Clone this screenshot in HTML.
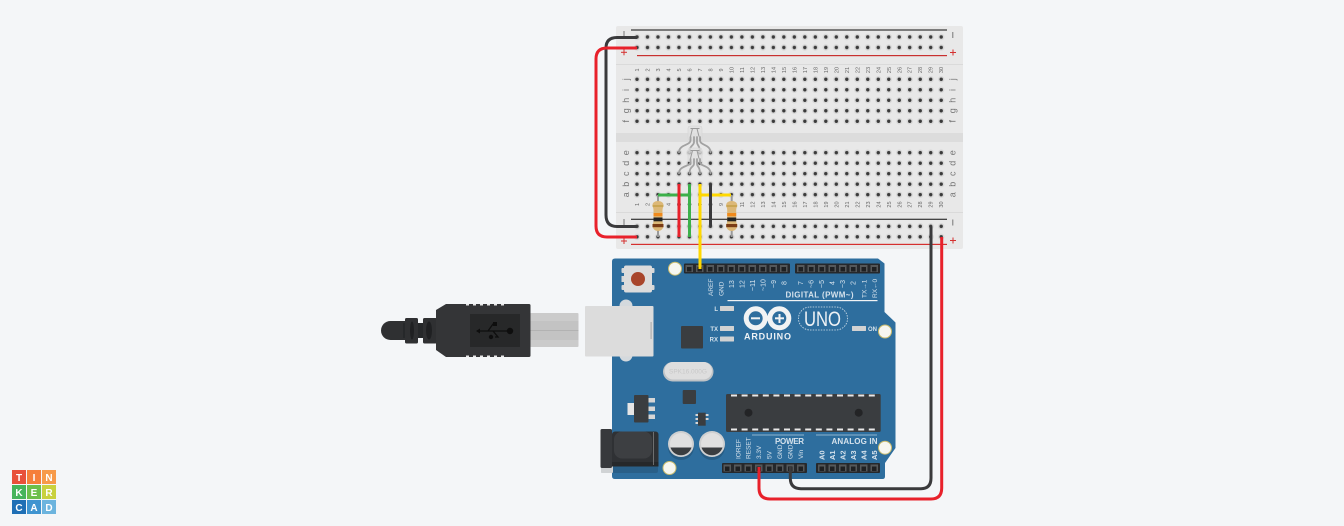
<!DOCTYPE html>
<html><head><meta charset="utf-8"><style>
html,body{margin:0;padding:0;background:#f4f6f8;width:1344px;height:526px;overflow:hidden}
svg{display:block;font-family:"Liberation Sans",sans-serif}
.n{font-size:5.5px;fill:#666;text-anchor:middle}
.l{font-size:9px;fill:#777;text-anchor:middle}
.p{font-size:7px;fill:#d5e2ec;text-anchor:start}
.b{font-size:6.5px;fill:#d5e2ec;text-anchor:start}
.w{fill:none;stroke-linecap:butt;stroke-linejoin:round;stroke-width:3}
.lg{fill:none;stroke:#a2a2a2;stroke-width:1.8;stroke-linecap:round}
.tk{font-size:10px;font-weight:bold;fill:#fff;text-anchor:middle}
</style></head><body>
<svg width="1344" height="526" viewBox="0 0 1344 526" xmlns="http://www.w3.org/2000/svg">
<defs>
<pattern id="h1" patternUnits="userSpaceOnUse" width="10.49" height="10.49" x="631.755" y="31.75"><circle cx="5.245" cy="5.245" r="3.2" fill="#d8d8d8"/><circle cx="5.245" cy="5.245" r="1.7" fill="#3a3a3a"/></pattern>
<pattern id="h2" patternUnits="userSpaceOnUse" width="10.49" height="10.49" x="631.755" y="74.05"><circle cx="5.245" cy="5.245" r="3.2" fill="#d8d8d8"/><circle cx="5.245" cy="5.245" r="1.7" fill="#3a3a3a"/></pattern>
<pattern id="h3" patternUnits="userSpaceOnUse" width="10.49" height="10.49" x="631.755" y="147.45"><circle cx="5.245" cy="5.245" r="3.2" fill="#d8d8d8"/><circle cx="5.245" cy="5.245" r="1.7" fill="#3a3a3a"/></pattern>
<pattern id="h4" patternUnits="userSpaceOnUse" width="10.49" height="10.49" x="631.755" y="221.1"><circle cx="5.245" cy="5.245" r="3.2" fill="#d8d8d8"/><circle cx="5.245" cy="5.245" r="1.7" fill="#3a3a3a"/></pattern>
<pattern id="pt" patternUnits="userSpaceOnUse" width="10.5" height="10" x="684" y="263.5"><rect x="1.5" y="1.5" width="7.5" height="7" fill="#55585a"/><rect x="3" y="3.5" width="4.5" height="4.5" fill="#1f2022"/></pattern>
<pattern id="pt2" patternUnits="userSpaceOnUse" width="10.5" height="10" x="795.5" y="263.5"><rect x="1.5" y="1.5" width="7.5" height="7" fill="#55585a"/><rect x="3" y="3.5" width="4.5" height="4.5" fill="#1f2022"/></pattern>
<pattern id="pb" patternUnits="userSpaceOnUse" width="10.5" height="10" x="722" y="463"><rect x="1.5" y="1.5" width="7.5" height="7" fill="#55585a"/><rect x="3" y="3.5" width="4.5" height="4.5" fill="#1f2022"/></pattern>
<pattern id="pb2" patternUnits="userSpaceOnUse" width="10.5" height="10" x="816.5" y="463"><rect x="1.5" y="1.5" width="7.5" height="7" fill="#55585a"/><rect x="3" y="3.5" width="4.5" height="4.5" fill="#1f2022"/></pattern>
</defs>
<rect width="1344" height="526" fill="#f4f6f8"/>

<!-- Breadboard -->
<rect x="616" y="26" width="347" height="223" rx="2" fill="#e8e8e8"/>
<rect x="616" y="64" width="347" height="1" fill="#dadada"/>
<rect x="616" y="133" width="347" height="9" fill="#dcdcdc"/>
<rect x="616" y="212" width="347" height="1" fill="#dadada"/>
<rect x="631.7" y="31.7" width="315" height="21" fill="url(#h1)"/>
<rect x="631.7" y="74" width="315" height="52.5" fill="url(#h2)"/>
<rect x="631.7" y="147.4" width="315" height="52.5" fill="url(#h3)"/>
<rect x="631.7" y="221" width="315" height="21" fill="url(#h4)"/>
<rect x="631" y="29.4" width="316" height="1.2" fill="#333"/>
<rect x="637" y="55" width="310" height="1.2" fill="#c8302f"/>
<rect x="631" y="218.7" width="316" height="1.2" fill="#333"/>
<rect x="631" y="243.8" width="316" height="1.2" fill="#d5302f"/>
<g fill="#777"><rect x="623.5" y="31" width="1" height="6"/><rect x="623.5" y="219" width="1" height="6"/><rect x="952.3" y="32" width="1" height="6"/><rect x="952.3" y="219.5" width="1" height="6"/></g>
<g fill="#d5302f"><rect x="621" y="51.8" width="6" height="1"/><rect x="623.5" y="49.3" width="1" height="6"/><rect x="621" y="240.5" width="6" height="1"/><rect x="623.5" y="238" width="1" height="6"/><rect x="950" y="52" width="6" height="1"/><rect x="952.5" y="49.5" width="1" height="6"/><rect x="950" y="240" width="6" height="1"/><rect x="952.5" y="237.5" width="1" height="6"/></g>
<g>
<text class="l" transform="translate(629,79.3)rotate(-90)">j</text><text class="l" transform="translate(629,90)rotate(-90)">i</text><text class="l" transform="translate(629,100.3)rotate(-90)">h</text><text class="l" transform="translate(629,110.8)rotate(-90)">g</text><text class="l" transform="translate(629,121.3)rotate(-90)">f</text>
<text class="l" transform="translate(629,152.7)rotate(-90)">e</text><text class="l" transform="translate(629,163.2)rotate(-90)">d</text><text class="l" transform="translate(629,173.7)rotate(-90)">c</text><text class="l" transform="translate(629,184.2)rotate(-90)">b</text><text class="l" transform="translate(629,194.7)rotate(-90)">a</text>
<text class="l" transform="translate(955.5,79.3)rotate(-90)">j</text><text class="l" transform="translate(955.5,90)rotate(-90)">i</text><text class="l" transform="translate(955.5,100.3)rotate(-90)">h</text><text class="l" transform="translate(955.5,110.8)rotate(-90)">g</text><text class="l" transform="translate(955.5,121.3)rotate(-90)">f</text>
<text class="l" transform="translate(955.5,152.7)rotate(-90)">e</text><text class="l" transform="translate(955.5,163.2)rotate(-90)">d</text><text class="l" transform="translate(955.5,173.7)rotate(-90)">c</text><text class="l" transform="translate(955.5,184.2)rotate(-90)">b</text><text class="l" transform="translate(955.5,194.7)rotate(-90)">a</text>
</g>
<g>
<text class="n" transform="translate(639,70)rotate(-90)">1</text><text class="n" transform="translate(649.5,70)rotate(-90)">2</text><text class="n" transform="translate(660,70)rotate(-90)">3</text><text class="n" transform="translate(670.5,70)rotate(-90)">4</text><text class="n" transform="translate(681,70)rotate(-90)">5</text><text class="n" transform="translate(691.5,70)rotate(-90)">6</text><text class="n" transform="translate(702,70)rotate(-90)">7</text><text class="n" transform="translate(712.4,70)rotate(-90)">8</text><text class="n" transform="translate(722.9,70)rotate(-90)">9</text><text class="n" transform="translate(733.4,70)rotate(-90)">10</text><text class="n" transform="translate(743.9,70)rotate(-90)">11</text><text class="n" transform="translate(754.4,70)rotate(-90)">12</text><text class="n" transform="translate(764.9,70)rotate(-90)">13</text><text class="n" transform="translate(775.4,70)rotate(-90)">14</text><text class="n" transform="translate(785.9,70)rotate(-90)">15</text><text class="n" transform="translate(796.4,70)rotate(-90)">16</text><text class="n" transform="translate(806.8,70)rotate(-90)">17</text><text class="n" transform="translate(817.3,70)rotate(-90)">18</text><text class="n" transform="translate(827.8,70)rotate(-90)">19</text><text class="n" transform="translate(838.3,70)rotate(-90)">20</text><text class="n" transform="translate(848.8,70)rotate(-90)">21</text><text class="n" transform="translate(859.3,70)rotate(-90)">22</text><text class="n" transform="translate(869.8,70)rotate(-90)">23</text><text class="n" transform="translate(880.3,70)rotate(-90)">24</text><text class="n" transform="translate(890.8,70)rotate(-90)">25</text><text class="n" transform="translate(901.3,70)rotate(-90)">26</text><text class="n" transform="translate(911.7,70)rotate(-90)">27</text><text class="n" transform="translate(922.2,70)rotate(-90)">28</text><text class="n" transform="translate(932.7,70)rotate(-90)">29</text><text class="n" transform="translate(943.2,70)rotate(-90)">30</text>
<text class="n" transform="translate(639,204.5)rotate(-90)">1</text><text class="n" transform="translate(649.5,204.5)rotate(-90)">2</text><text class="n" transform="translate(660,204.5)rotate(-90)">3</text><text class="n" transform="translate(670.5,204.5)rotate(-90)">4</text><text class="n" transform="translate(681,204.5)rotate(-90)">5</text><text class="n" transform="translate(691.5,204.5)rotate(-90)">6</text><text class="n" transform="translate(702,204.5)rotate(-90)">7</text><text class="n" transform="translate(712.4,204.5)rotate(-90)">8</text><text class="n" transform="translate(722.9,204.5)rotate(-90)">9</text><text class="n" transform="translate(733.4,204.5)rotate(-90)">10</text><text class="n" transform="translate(743.9,204.5)rotate(-90)">11</text><text class="n" transform="translate(754.4,204.5)rotate(-90)">12</text><text class="n" transform="translate(764.9,204.5)rotate(-90)">13</text><text class="n" transform="translate(775.4,204.5)rotate(-90)">14</text><text class="n" transform="translate(785.9,204.5)rotate(-90)">15</text><text class="n" transform="translate(796.4,204.5)rotate(-90)">16</text><text class="n" transform="translate(806.8,204.5)rotate(-90)">17</text><text class="n" transform="translate(817.3,204.5)rotate(-90)">18</text><text class="n" transform="translate(827.8,204.5)rotate(-90)">19</text><text class="n" transform="translate(838.3,204.5)rotate(-90)">20</text><text class="n" transform="translate(848.8,204.5)rotate(-90)">21</text><text class="n" transform="translate(859.3,204.5)rotate(-90)">22</text><text class="n" transform="translate(869.8,204.5)rotate(-90)">23</text><text class="n" transform="translate(880.3,204.5)rotate(-90)">24</text><text class="n" transform="translate(890.8,204.5)rotate(-90)">25</text><text class="n" transform="translate(901.3,204.5)rotate(-90)">26</text><text class="n" transform="translate(911.7,204.5)rotate(-90)">27</text><text class="n" transform="translate(922.2,204.5)rotate(-90)">28</text><text class="n" transform="translate(932.7,204.5)rotate(-90)">29</text><text class="n" transform="translate(943.2,204.5)rotate(-90)">30</text>
</g>

<!-- LEDs -->
<rect x="688" y="126" width="14" height="14" rx="2" fill="#e0e0e0" fill-opacity=".7" stroke="#d2d2d2" stroke-width=".5"/>
<path d="M690.500 128.500h9M692.500 128.500l-2 8M697 128.500l2 8" fill="none" stroke="#9a9a9a" stroke-width="1"/>
<path class="lg" d="M690.500 137v3c0 6-11.500 4-11.500 12.500M694 137v5c0 4-4.500 3-4.500 10.500M697 137v5c0 4 3 3 3 10.500M700 137v3c0 6 10.500 4 10.500 12.500"/>
<rect x="688" y="148" width="14" height="14" rx="2" fill="#e0e0e0" fill-opacity=".7" stroke="#d2d2d2" stroke-width=".5"/>
<path d="M690.500 150.500h9M692.500 150.500l-2 8M697 150.500l2 8" fill="none" stroke="#9a9a9a" stroke-width="1"/>
<path class="lg" d="M690.500 159v3c0 5-11.500 3-11.500 11.500M694 159v5c0 3-4.500 2-4.500 9.500M697 159v5c0 3 3 2 3 9.500M700 159v3c0 5 10.500 3 10.500 11.500"/>

<!-- USB plug -->
<rect x="530" y="313" width="48.500" height="34" rx="1" fill="#cbcbcb"/>
<rect x="530" y="321" width="48.500" height="19" fill="#c3c3c3"/>
<rect x="530" y="330" width="48.500" height=".7" fill="#aaa"/>
<path d="M381 330.500a9.500 9.500 0 0 1 9.500-9.500H405V340H390.500a9.500 9.500 0 0 1-9.500-9.500z" fill="#2f3032"/>
<rect x="403" y="323" width="34" height="15" fill="#26282a"/>
<rect x="405" y="318" width="13" height="25.500" rx="1.500" fill="#2f3032"/>
<rect x="423" y="318" width="14" height="25.500" rx="1.500" fill="#2f3032"/>
<ellipse cx="412" cy="330.500" rx="2" ry="9" fill="#1f2022"/><ellipse cx="429" cy="330.500" rx="3" ry="9" fill="#1f2022"/>
<path d="M436 310l10-6h83a1.500 1.500 0 0 1 1.500 1.500v50a1.500 1.500 0 0 1-1.500 1.500h-83l-10-7z" fill="#343537"/>
<g fill="#e8e8e8"><rect x="466" y="304" width="3" height="1.500"/><rect x="473" y="304" width="3" height="1.500"/><rect x="480" y="304" width="3" height="1.500"/><rect x="487" y="304" width="3" height="1.500"/><rect x="494" y="304" width="3" height="1.500"/><rect x="501" y="304" width="3" height="1.500"/><rect x="466" y="355.500" width="3" height="1.500"/><rect x="473" y="355.500" width="3" height="1.500"/><rect x="480" y="355.500" width="3" height="1.500"/><rect x="487" y="355.500" width="3" height="1.500"/><rect x="494" y="355.500" width="3" height="1.500"/><rect x="501" y="355.500" width="3" height="1.500"/></g>
<rect x="470" y="314" width="50" height="33" fill="#272829"/>
<g stroke="#0e0e0e" stroke-width="1.300" fill="none"><path d="M478 331h34M488 331l5-7h4M493 331l5 6h-3"/></g>
<circle cx="510" cy="331" r="3.200" fill="#0e0e0e"/><rect x="483" y="322" width="4" height="4" fill="#0e0e0e" transform="translate(10,0)"/><circle cx="491" cy="337" r="2.200" fill="#0e0e0e"/><path d="M476 331l4-2.500v5z" fill="#0e0e0e"/>

<!-- Arduino -->
<path d="M615 258.500H878l6.500 5V312l11 10.500V448l-10.500 15v13.500q0 2.500-2.500 2.500H615q-3 0-3-3V261.500q0-3 3-3z" fill="#2e6e9e"/>
<rect x="684" y="263.500" width="106" height="10" rx="1" fill="#26282b"/>
<rect x="684" y="263.500" width="106" height="10" fill="url(#pt)"/>
<rect x="795" y="263.500" width="85" height="10" rx="1" fill="#26282b"/>
<rect x="795.500" y="263.500" width="84" height="10" fill="url(#pt2)"/>
<rect x="722" y="463" width="85" height="10" rx="1" fill="#26282b"/>
<rect x="722" y="463" width="84" height="10" fill="url(#pb)"/>
<rect x="816" y="463" width="64" height="10" rx="1" fill="#26282b"/>
<rect x="816.500" y="463" width="63" height="10" fill="url(#pb2)"/>
<g fill="#f6f6f0" stroke="#c9bb6c" stroke-width="1"><circle cx="675" cy="268.700" r="6.500"/><circle cx="885" cy="331.500" r="6.500"/><circle cx="885" cy="447.700" r="6.500"/><circle cx="669.500" cy="468" r="6.500"/></g>
<!-- reset -->
<rect x="621.500" y="268" width="33" height="5" rx="1" fill="#d8d8d8"/>
<rect x="621.500" y="276" width="3" height="6" fill="#d8d8d8"/><rect x="621.500" y="285" width="33" height="5" rx="1" fill="#d8d8d8"/>
<rect x="624" y="265.500" width="28" height="27" rx="2" fill="#dcdcdc"/>
<circle cx="638" cy="279" r="7" fill="#a8452b"/>
<!-- USB port -->
<circle cx="626" cy="306" r="6.500" fill="#d4d9dd"/><circle cx="626" cy="355" r="6.500" fill="#d4d9dd"/>
<rect x="585" y="306" width="68.500" height="50.500" rx="1" fill="#dcdcdc"/>
<rect x="650.500" y="322" width="1.200" height="17" fill="#b0b0b0"/>
<!-- chips -->
<rect x="681" y="326" width="22" height="22.500" rx="1" fill="#3a3d40"/>
<rect x="682.700" y="390" width="13.300" height="14" rx="1" fill="#3a3d40"/>
<g fill="#d2d2d2"><rect x="720" y="306" width="14" height="5" rx=".5"/><rect x="720" y="326" width="14" height="5" rx=".5"/><rect x="720" y="336.500" width="14" height="5" rx=".5"/><rect x="852" y="326" width="14" height="5" rx=".5"/></g>
<g font-size="6" font-weight="bold" fill="#d5e2ec" text-anchor="end"><text x="718" y="311">L</text><text x="718" y="331">TX</text><text x="718" y="341.500">RX</text><text x="877" y="331">ON</text></g>
<!-- logo -->
<g fill="none" stroke="#f1f3f4" stroke-width="5"><circle cx="755.700" cy="318.300" r="9.500"/><circle cx="779.300" cy="318.300" r="9.500"/></g>
<g fill="#f1f3f4"><rect x="751" y="317.300" width="9" height="2"/><rect x="775" y="317.300" width="9" height="2"/><rect x="778.500" y="314" width="2" height="9"/></g>
<text x="744" y="339.500" font-size="9" font-weight="bold" fill="#eef2f5" textLength="47">ARDUINO</text>
<rect x="798.500" y="307" width="49" height="23" rx="11.500" fill="none" stroke="#d5e2ec" stroke-width=".8" stroke-dasharray="1.500 1.200"/>
<text x="804" y="326" font-size="21" fill="#eef2f5" textLength="37" lengthAdjust="spacingAndGlyphs">UNO</text>
<text x="785.500" y="297.500" font-size="8" font-weight="bold" fill="#d5e2ec" textLength="68">DIGITAL (PWM~)</text>
<rect x="727.500" y="300" width="150" height="1.200" fill="#f1f3f4"/>
<g>
<text class="p" style="font-size:6.500px" transform="translate(713,296)rotate(-90)">AREF</text>
<text class="p" style="font-size:6.500px" transform="translate(723.500,296)rotate(-90)">GND</text>
<text class="p" transform="translate(734,288)rotate(-90)">13</text>
<text class="p" transform="translate(744.500,288)rotate(-90)">12</text>
<text class="p" transform="translate(755,291)rotate(-90)">~11</text>
<text class="p" transform="translate(765.500,291)rotate(-90)">~10</text>
<text class="p" transform="translate(776,288)rotate(-90)">~9</text>
<text class="p" transform="translate(786.500,285)rotate(-90)">8</text>
<text class="p" transform="translate(803,285)rotate(-90)">7</text>
<text class="p" transform="translate(813.500,288)rotate(-90)">~6</text>
<text class="p" transform="translate(824,288)rotate(-90)">~5</text>
<text class="p" transform="translate(834.500,285)rotate(-90)">4</text>
<text class="p" transform="translate(845,288)rotate(-90)">~3</text>
<text class="p" transform="translate(855.500,285)rotate(-90)">2</text>
<text class="p" style="font-size:6.500px" transform="translate(866.500,298)rotate(-90)">TX→1</text>
<text class="p" style="font-size:6.500px" transform="translate(877,298)rotate(-90)">RX←0</text>
</g>
<text x="775" y="444" font-size="8" font-weight="bold" fill="#d5e2ec" textLength="29">POWER</text>
<text x="831.500" y="444" font-size="8" font-weight="bold" fill="#d5e2ec" textLength="46">ANALOG IN</text>
<rect x="752" y="434.500" width="52" height="1" fill="#8fb4cf"/><rect x="816" y="434.500" width="61" height="1" fill="#8fb4cf"/>
<g>
<text class="b" transform="translate(740.300,459)rotate(-90)">IOREF</text>
<text class="b" transform="translate(750.500,459)rotate(-90)">RESET</text>
<text class="b" transform="translate(761,459)rotate(-90)">3.3V</text>
<text class="b" transform="translate(771.500,459)rotate(-90)">5V</text>
<text class="b" transform="translate(782,459)rotate(-90)">GND</text>
<text class="b" transform="translate(792.500,459)rotate(-90)">GND</text>
<text class="b" transform="translate(803,459)rotate(-90)">Vin</text>
<text class="b" style="font-size:7.500px;font-weight:bold" transform="translate(824.500,460)rotate(-90)">A0</text>
<text class="b" style="font-size:7.500px;font-weight:bold" transform="translate(835,460)rotate(-90)">A1</text>
<text class="b" style="font-size:7.500px;font-weight:bold" transform="translate(845.500,460)rotate(-90)">A2</text>
<text class="b" style="font-size:7.500px;font-weight:bold" transform="translate(856,460)rotate(-90)">A3</text>
<text class="b" style="font-size:7.500px;font-weight:bold" transform="translate(866.500,460)rotate(-90)">A4</text>
<text class="b" style="font-size:7.500px;font-weight:bold" transform="translate(877,460)rotate(-90)">A5</text>
</g>
<!-- crystal -->
<rect x="663" y="362" width="50.500" height="19.500" rx="9.700" fill="#bfc3c6"/>
<rect x="664.500" y="362" width="47.500" height="17.500" rx="8.700" fill="#dedede"/>
<text x="688" y="373.500" font-size="6.500" fill="#c8c8c8" text-anchor="middle">SPK16.000G</text>
<!-- regulator -->
<rect x="627.500" y="403" width="8" height="12" fill="#e6e6e6"/>
<g fill="#d6d6d6"><rect x="647" y="398" width="8" height="4.500"/><rect x="647" y="406.500" width="8" height="4.500"/><rect x="647" y="414.500" width="8" height="4.500"/></g>
<rect x="634" y="395" width="14.500" height="27.500" rx="1" fill="#3a3d40"/>
<!-- small IC -->
<g fill="#d6d6d6"><rect x="695.500" y="414" width="13" height="2"/><rect x="695.500" y="418" width="13" height="2"/><rect x="695.500" y="422" width="3" height="2"/></g>
<rect x="698" y="412.700" width="7.700" height="13" fill="#3a3d40"/>
<!-- jack -->
<rect x="601" y="445" width="57" height="28" rx="2" fill="#295f88"/>
<rect x="601" y="436" width="12" height="37" rx="1" fill="#d0d3d5"/>
<rect x="612" y="431.500" width="46.500" height="34.500" rx="3" fill="#2f3134"/>
<rect x="614" y="431.500" width="38" height="27" rx="8" fill="#3d3f42"/>
<rect x="612" y="462" width="46.500" height="4.500" fill="#26282a"/>
<rect x="600.500" y="429" width="11.500" height="39" rx="1.500" fill="#37393c"/>
<rect x="653" y="432" width=".7" height="33" fill="#8a8a8a"/>
<!-- caps -->
<circle cx="681" cy="447" r="13" fill="#275c84"/><circle cx="712" cy="447" r="13" fill="#275c84"/>
<circle cx="681" cy="444" r="13" fill="#cfd0d1"/><circle cx="712" cy="444" r="13" fill="#cfd0d1"/>
<circle cx="681" cy="444" r="11" fill="#e0e0e0"/><circle cx="712" cy="444" r="11" fill="#e0e0e0"/>
<path d="M670.500 447.500h21a11 11 0 0 1-21 0zM701.500 447.500h21a11 11 0 0 1-21 0z" fill="#3a3d40"/>
<!-- MCU -->
<rect x="726" y="394" width="154.700" height="38" rx="1.500" fill="#3a3d40"/>
<g fill="#e8e8e8"><rect x="731" y="394.500" width="6" height="2"/><rect x="741.600" y="394.500" width="6" height="2"/><rect x="752.200" y="394.500" width="6" height="2"/><rect x="762.800" y="394.500" width="6" height="2"/><rect x="773.400" y="394.500" width="6" height="2"/><rect x="784" y="394.500" width="6" height="2"/><rect x="794.600" y="394.500" width="6" height="2"/><rect x="805.200" y="394.500" width="6" height="2"/><rect x="815.800" y="394.500" width="6" height="2"/><rect x="826.400" y="394.500" width="6" height="2"/><rect x="837" y="394.500" width="6" height="2"/><rect x="847.600" y="394.500" width="6" height="2"/><rect x="858.200" y="394.500" width="6" height="2"/><rect x="868.800" y="394.500" width="6" height="2"/>
<rect x="731" y="428.500" width="6" height="2"/><rect x="741.600" y="428.500" width="6" height="2"/><rect x="752.200" y="428.500" width="6" height="2"/><rect x="762.800" y="428.500" width="6" height="2"/><rect x="773.400" y="428.500" width="6" height="2"/><rect x="784" y="428.500" width="6" height="2"/><rect x="794.600" y="428.500" width="6" height="2"/><rect x="805.200" y="428.500" width="6" height="2"/><rect x="815.800" y="428.500" width="6" height="2"/><rect x="826.400" y="428.500" width="6" height="2"/><rect x="837" y="428.500" width="6" height="2"/><rect x="847.600" y="428.500" width="6" height="2"/><rect x="858.200" y="428.500" width="6" height="2"/><rect x="868.800" y="428.500" width="6" height="2"/></g>
<circle cx="748.500" cy="412.700" r="4" fill="#232426"/><circle cx="858.700" cy="412.700" r="4" fill="#232426"/>

<!-- Resistors -->
<g>
<path d="M658 195v42" stroke="#9a9a9a" stroke-width="2" fill="none"/>
<path d="M652.500 205c0-2.500 2.500-4 5.500-4s5.500 1.500 5.500 4c0 2-1 3-1 5v11c0 2 1 3 1 5 0 2.500-2.500 5-5.500 5s-5.500-2.500-5.500-5c0-2 1-3 1-5v-11c0-2-1-3-1-5z" fill="#dcb878"/>
<rect x="652.500" y="205.500" width="11" height="1" fill="#b8932f"/><rect x="653.500" y="213" width="9" height="3.200" fill="#f08a1c"/><rect x="653.500" y="217.500" width="9" height="3.800" fill="#222"/><rect x="652.500" y="224" width="11" height="3.200" fill="#7a3c16"/>
</g>
<g>
<path d="M731.700 195v42" stroke="#9a9a9a" stroke-width="2" fill="none"/>
<path d="M726.200 205c0-2.500 2.500-4 5.500-4s5.500 1.500 5.500 4c0 2-1 3-1 5v11c0 2 1 3 1 5 0 2.500-2.500 5-5.500 5s-5.500-2.500-5.500-5c0-2 1-3 1-5v-11c0-2-1-3-1-5z" fill="#dcb878"/>
<rect x="726.200" y="205.500" width="11" height="1" fill="#b8932f"/><rect x="727.200" y="213" width="9" height="3.200" fill="#f08a1c"/><rect x="727.200" y="217.500" width="9" height="3.800" fill="#222"/><rect x="726.200" y="224" width="11" height="3.200" fill="#7a3c16"/>
</g>

<!-- Wires -->
<path class="w" stroke="#3a3a3c" d="M637 37.500H617Q606 37.500 606 48V215Q606 226.500 617 226.500H637"/>
<path class="w" stroke="#e8212b" d="M637 48H607Q596 48 596 59V226Q596 237 607 237H637"/>
<path class="w" stroke="#3cb04a" d="M658 195H689.500M689.500 184V237"/>
<path class="w" stroke="#e8212b" d="M679 184V237"/>
<path class="w" stroke="#ffd800" d="M700 184V269M700 195H731"/>
<path class="w" stroke="#3a3a3c" d="M710.500 184V226"/>
<path class="w" stroke="#3a3a3c" d="M790.300 467V478Q790.300 488.700 801 488.700H921Q931 488.700 931 478V226.500"/>
<path class="w" stroke="#e8212b" d="M759 467V488Q759 499 770 499H931Q941.700 499 941.700 488V237"/>

<!-- Tinkercad logo -->
<rect x="12" y="470" width="14" height="14" fill="#e8503a"/><rect x="27" y="470" width="14" height="14" fill="#f57f3a"/><rect x="42" y="470" width="14" height="14" fill="#f79a4a"/>
<rect x="12" y="485" width="14" height="14" fill="#45b45a"/><rect x="27" y="485" width="14" height="14" fill="#6cbf4b"/><rect x="42" y="485" width="14" height="14" fill="#c9d13e"/>
<rect x="12" y="500" width="14" height="14" fill="#1f6fb5"/><rect x="27" y="500" width="14" height="14" fill="#3f94d0"/><rect x="42" y="500" width="14" height="14" fill="#6cb4de"/>
<text class="tk" x="19" y="481">T</text><text class="tk" x="34" y="481">I</text><text class="tk" x="49" y="481">N</text>
<text class="tk" x="19" y="496">K</text><text class="tk" x="34" y="496">E</text><text class="tk" x="49" y="496">R</text>
<text class="tk" x="19" y="511">C</text><text class="tk" x="34" y="511">A</text><text class="tk" x="49" y="511">D</text>
</svg>
</body></html>
